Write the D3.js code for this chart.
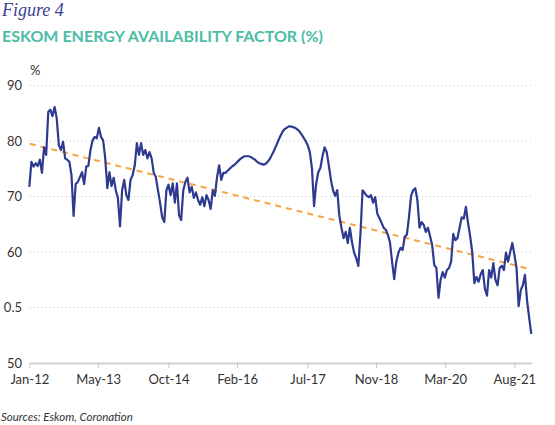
<!DOCTYPE html>
<html lang="en">
    <head>
        <meta charset="utf-8"/>
        <script src="https://d3js.org/d3.v7.min.js"></script>
        <style>
            body { margin: 0; background: #fff; }
        </style>
    </head>
    <body>
        <div id="chart"></div>
    </body>
    <script>
        // Eskom energy availability factor, half-monthly readings from Jan 2012
        var startDate = "2012-01-01";
        var eafValues = [
            75.4, 79.0, 78.3, 78.8, 78.4, 79.3, 77.4, 81.1, 80.0, 86.2,
            86.5, 85.6, 86.9, 85.3, 81.4, 80.7, 81.9, 79.5, 79.3, 79.0,
            77.1, 71.2, 75.8, 76.1, 76.8, 77.5, 75.8, 78.3, 78.4, 80.7,
            82.1, 82.6, 82.4, 83.9, 82.6, 82.1, 79.5, 75.2, 77.5, 75.5,
            76.7, 74.9, 73.8, 69.7, 74.9, 76.4, 74.2, 73.5, 76.4, 77.1,
            78.5, 81.7, 80.0, 81.7, 80.0, 80.7, 79.5, 80.4, 79.5, 77.4,
            76.8, 74.9, 73.1, 71.0, 70.3, 74.9, 75.7, 74.2, 75.9, 73.1,
            75.9, 71.3, 70.6, 74.9, 76.1, 76.7, 74.6, 75.4, 73.8, 74.6,
            73.5, 72.8, 73.9, 72.6, 74.2, 73.5, 72.2, 74.9, 74.1, 76.8,
            78.5, 76.4, 77.4, 77.4, 77.7, 78.0, 78.3, 78.5, 78.8, 79.1,
            79.4, 79.6, 79.8, 79.8, 79.8, 79.7, 79.5, 79.3, 79.0, 78.8,
            78.7, 78.6, 78.7, 79.0, 79.4, 80.0, 80.6, 81.3, 82.0, 82.7,
            83.3, 83.7, 83.9, 84.1, 84.1, 84.0, 83.9, 83.7, 83.4, 83.0,
            82.5, 82.0, 81.4, 80.4, 78.1, 72.6, 75.8, 77.5, 78.1, 79.8,
            81.1, 80.4, 78.5, 76.4, 74.9, 74.1, 74.9, 71.2, 69.5, 68.0,
            68.9, 67.3, 69.5, 67.4, 65.9, 65.1, 64.0, 68.6, 74.9, 74.5,
            74.1, 73.9, 74.2, 73.1, 73.9, 71.5, 70.9, 70.2, 69.5, 69.2,
            68.5, 67.4, 64.6, 62.1, 64.6, 65.9, 66.6, 66.3, 68.2, 68.5,
            71.0, 74.1, 74.9, 75.2, 73.5, 69.5, 70.3, 69.9, 68.9, 69.5,
            68.3, 67.0, 64.1, 63.7, 59.4, 62.0, 63.1, 62.3, 63.4, 63.7,
            64.6, 68.6, 67.7, 68.0, 69.5, 71.0, 70.8, 72.5, 70.2, 68.3,
            66.0, 61.5, 62.4, 61.7, 62.8, 63.4, 60.7, 59.7, 63.4, 62.3,
            64.4, 62.0, 61.2, 63.7, 64.0, 63.4, 65.9, 64.6, 66.0, 67.3,
            65.6, 63.7, 58.2, 60.5, 61.2, 62.7, 59.0, 56.5, 54.2
        ];

        // linear trend, start and end
        var trendDates = ["2012-01-05", "2021-11-30"];
        var trendValues = [81.6, 63.5];

        var xTickDates = ["2012-01-01", "2013-05-12", "2014-10-01", "2016-02-08",
                          "2017-07-01", "2018-11-07", "2020-03-20", "2021-08-01"];
        var yTickValues = [90, 82, 74, 66, 58, 50];
        var yTickLabels = ["90", "80", "70", "60", "0.5", "50"];

        var width = 555;
        var height = 425;
        var halfMonth = 365.25 / 24 * 86400000;
        var parse = d3.utcParse("%Y-%m-%d");
        var t0 = parse(startDate);

        var data = eafValues.map(function (v, i) {
            return { date: new Date(t0.getTime() + i * halfMonth), value: v };
        });
        var trend = trendDates.map(function (d, i) {
            return { date: parse(d), value: trendValues[i] };
        });

        var svg = d3.select("#chart")
            .append("svg")
                .attr("width", width)
                .attr("height", height)
                .style("font-family", "Lato, 'Open Sans', sans-serif");

        // headings
        svg.append("text")
            .attr("x", 2)
            .attr("y", 16)
            .attr("fill", "#3b3f8e")
            .style("font-family", "'Liberation Serif', serif")
            .style("font-style", "italic")
            .style("font-size", "18px")
            .text("Figure 4");

        svg.append("text")
            .attr("x", 2)
            .attr("y", 42)
            .attr("fill", "#4cbca6")
            .attr("textLength", 321)
            .attr("lengthAdjust", "spacing")
            .style("font-weight", "700")
            .style("font-size", "16px")
            .text("ESKOM ENERGY AVAILABILITY FACTOR (%)");

        var x = d3.scaleUtc()
            .domain([parse("2012-01-01"), parse("2021-12-04")])
            .range([29.3, 531.7]);

        var y = d3.scaleLinear()
            .domain([50, 90])
            .range([363, 85.5]);

        // dotted gridlines
        svg.append("g")
            .selectAll("line")
            .data(yTickValues.filter(function (d) { return d > 50; }))
            .enter()
            .append("line")
            .attr("x1", 30)
            .attr("x2", 531)
            .attr("y1", function (d) { return y(d); })
            .attr("y2", function (d) { return y(d); })
            .attr("stroke", "#c4c4c4")
            .attr("stroke-width", 1)
            .attr("stroke-dasharray", "1,3");

        // y axis labels only
        var yAxis = svg.append("g")
            .attr("transform", "translate(29,0)")
            .call(d3.axisLeft(y)
                .tickValues(yTickValues)
                .tickSize(0)
                .tickPadding(7)
                .tickFormat(function (d, i) { return yTickLabels[i]; }));
        yAxis.select(".domain").remove();
        yAxis.selectAll("text")
            .attr("fill", "#333")
            .style("font-size", "13px")
            .style("font-family", "Lato, sans-serif");

        svg.append("text")
            .attr("x", 30)
            .attr("y", 75)
            .attr("fill", "#333")
            .style("font-size", "13px")
            .text("%");

        // x axis
        var xAxis = svg.append("g")
            .attr("transform", "translate(0,363)")
            .call(d3.axisBottom(x)
                .tickValues(xTickDates.map(parse))
                .tickSize(5)
                .tickSizeOuter(0)
                .tickPadding(7)
                .tickFormat(d3.utcFormat("%b-%y")));
        xAxis.select(".domain")
            .attr("stroke", "#d2d2d2")
            .attr("stroke-width", 2);
        xAxis.selectAll(".tick line")
            .attr("stroke", "#c8c8c8");
        xAxis.selectAll("text")
            .attr("fill", "#333")
            .style("font-size", "13px")
            .style("font-family", "Lato, sans-serif");

        // trend line
        svg.append("path")
            .datum(trend)
            .attr("fill", "none")
            .attr("stroke", "#f6a542")
            .attr("stroke-width", 2)
            .attr("stroke-dasharray", "6,5")
            .attr("d", d3.line()
                .x(function (d) { return x(d.date); })
                .y(function (d) { return y(d.value); }));

        // EAF line
        svg.append("path")
            .datum(data)
            .attr("fill", "none")
            .attr("stroke", "#2d3a8f")
            .attr("stroke-width", 2.2)
            .attr("stroke-linejoin", "round")
            .attr("d", d3.line()
                .x(function (d) { return x(d.date); })
                .y(function (d) { return y(d.value); }));

        svg.append("text")
            .attr("x", 1)
            .attr("y", 421)
            .attr("fill", "#333")
            .style("font-style", "italic")
            .style("font-size", "11.5px")
            .text("Sources: Eskom, Coronation");
    </script>
</html>
